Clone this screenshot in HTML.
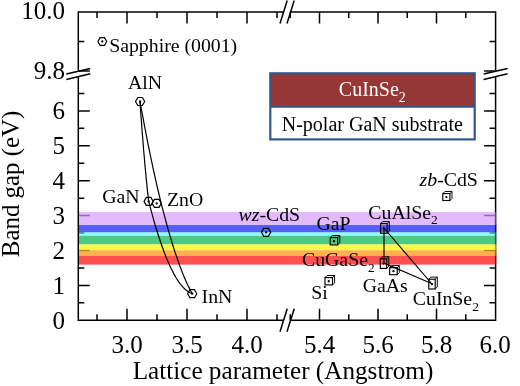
<!DOCTYPE html><html><head><meta charset="utf-8"><title>Band gap vs lattice parameter</title>
<style>html,body{margin:0;padding:0;background:#fff}svg{display:block}text{font-family:"Liberation Serif","Times New Roman",serif;fill:#000}</style></head><body>
<svg width="520" height="386" viewBox="0 0 520 386">
<rect width="520" height="386" fill="#fff"/>
<defs><filter id="soft" x="0" y="0" width="100%" height="100%" filterUnits="userSpaceOnUse"><feGaussianBlur stdDeviation="0.4"/></filter></defs>
<g filter="url(#soft)">
<rect width="520" height="386" fill="#fff"/>
<g stroke="#000" stroke-width="1.5" fill="none" stroke-linecap="butt">
<path d="M78.3 11.25V70.6M78.3 77V321.05"/>
<path d="M495.6 11.25V70.6M495.6 77V321.05"/>
<path d="M78.3 12.0H283.3M291 12.0H495.6"/>
<path d="M78.3 320.3H283.3M291 320.3H495.6"/>
<path d="M127.00 12.0v11.5M127.00 320.3v-11.5"/>
<path d="M187.00 12.0v11.5M187.00 320.3v-11.5"/>
<path d="M247.00 12.0v11.5M247.00 320.3v-11.5"/>
<path d="M97.00 12.0v6M97.00 320.3v-6"/>
<path d="M157.00 12.0v6M157.00 320.3v-6"/>
<path d="M217.00 12.0v6M217.00 320.3v-6"/>
<path d="M277.00 12.0v6M277.00 320.3v-6"/>
<path d="M319.50 12.0v11.5M319.50 320.3v-11.5"/>
<path d="M378.00 12.0v11.5M378.00 320.3v-11.5"/>
<path d="M436.50 12.0v11.5M436.50 320.3v-11.5"/>
<path d="M290.25 12.0v6M290.25 320.3v-6"/>
<path d="M348.75 12.0v6M348.75 320.3v-6"/>
<path d="M407.25 12.0v6M407.25 320.3v-6"/>
<path d="M465.75 12.0v6M465.75 320.3v-6"/>
<path d="M79.0 285.40h10.8M494.90000000000003 285.40h-10.8"/>
<path stroke-opacity="0.62" d="M79.0 250.50h10.8M494.90000000000003 250.50h-10.8"/>
<path stroke-opacity="0.62" d="M79.0 215.60h10.8M494.90000000000003 215.60h-10.8"/>
<path d="M79.0 180.70h10.8M494.90000000000003 180.70h-10.8"/>
<path d="M79.0 145.80h10.8M494.90000000000003 145.80h-10.8"/>
<path d="M79.0 110.90h10.8M494.90000000000003 110.90h-10.8"/>
<path d="M79.0 302.85h5.3M494.90000000000003 302.85h-5.3"/>
<path d="M79.0 267.95h5.3M494.90000000000003 267.95h-5.3"/>
<path stroke-opacity="0.62" d="M79.0 233.05h5.3M494.90000000000003 233.05h-5.3"/>
<path d="M79.0 198.15h5.3M494.90000000000003 198.15h-5.3"/>
<path d="M79.0 163.25h5.3M494.90000000000003 163.25h-5.3"/>
<path d="M79.0 128.35h5.3M494.90000000000003 128.35h-5.3"/>
<path d="M79.0 93.45h5.3M494.90000000000003 93.45h-5.3"/>
<path d="M79.0 71.00h10.8M494.90000000000003 71.00h-10.8"/>
<path d="M79.0 41.50h5.3M494.90000000000003 41.50h-5.3"/>
<path d="M280.0 23.5L287.20000000000005 0.5"/>
<path d="M280.0 331.8L287.20000000000005 308.8"/>
<path d="M287.0 23.5L294.20000000000005 0.5"/>
<path d="M287.0 331.8L294.20000000000005 308.8"/>
<path d="M66.3 74.0L90.3 68.4"/>
<path d="M483.6 74.0L507.6 68.4"/>
<path d="M66.3 79.39999999999999L90.3 73.8"/>
<path d="M483.6 79.39999999999999L507.6 73.8"/>
</g>
<rect x="79.0" y="212.05" width="417.3" height="12.95" fill="rgb(200,120,250)" fill-opacity="0.5"/>
<rect x="79.0" y="225.0" width="417.3" height="7.30" fill="rgb(0,10,250)" fill-opacity="0.66"/>
<rect x="79.0" y="232.3" width="417.3" height="3.60" fill="rgb(0,240,240)" fill-opacity="0.43"/>
<rect x="79.0" y="235.9" width="417.3" height="8.40" fill="rgb(0,176,80)" fill-opacity="0.69"/>
<rect x="79.0" y="244.3" width="417.3" height="6.00" fill="rgb(255,240,0)" fill-opacity="0.69"/>
<rect x="79.0" y="250.3" width="417.3" height="5.60" fill="rgb(255,140,0)" fill-opacity="0.69"/>
<rect x="79.0" y="255.9" width="417.3" height="8.70" fill="rgb(255,0,0)" fill-opacity="0.69"/>
<g stroke="#000" stroke-width="1.2" fill="none">
<path d="M140.0 101.5L140.2 104.6L140.4 107.6L140.6 110.6L140.8 113.6L141.0 116.6L141.3 119.5L141.5 122.4L141.7 125.3L141.9 128.1L142.1 130.9L142.3 133.7L142.6 136.4L142.8 139.2L143.0 141.8L143.2 144.5L143.4 147.1L143.6 149.7L143.8 152.3L144.1 154.8L144.3 157.3L144.5 159.8L144.7 162.2L144.9 164.6L145.1 167.0L145.4 169.4L145.6 171.7L145.8 174.0L146.0 176.2L146.2 178.5L146.4 180.7L146.7 182.8L146.9 185.0L147.1 187.1L147.3 189.1L147.5 191.2L147.7 193.2L148.0 195.2L148.2 197.1L148.4 199.1L148.6 200.9"/>
<path d="M148.6 200.9L149.7 205.2L150.8 209.3L151.9 213.3L153.0 217.3L154.0 221.1L155.1 224.9L156.2 228.5L157.3 232.0L158.4 235.5L159.5 238.8L160.6 242.1L161.7 245.2L162.8 248.3L163.8 251.2L164.9 254.1L166.0 256.9L167.1 259.5L168.2 262.1L169.3 264.5L170.4 266.9L171.5 269.2L172.6 271.3L173.6 273.4L174.7 275.4L175.8 277.3L176.9 279.0L178.0 280.7L179.1 282.3L180.2 283.8L181.3 285.2L182.4 286.4L183.4 287.6L184.5 288.7L185.6 289.7L186.7 290.6L187.8 291.4L188.9 292.1L190.0 292.7L191.1 293.2L192.2 293.6"/>
<path d="M140.0 101.5L141.3 108.7L142.6 115.7L143.9 122.7L145.2 129.5L146.5 136.2L147.8 142.8L149.1 149.2L150.4 155.5L151.7 161.7L153.0 167.8L154.3 173.8L155.6 179.6L156.9 185.4L158.2 191.0L159.5 196.4L160.8 201.8L162.1 207.0L163.5 212.1L164.8 217.1L166.1 222.0L167.4 226.7L168.7 231.3L170.0 235.8L171.3 240.2L172.6 244.5L173.9 248.6L175.2 252.6L176.5 256.5L177.8 260.3L179.1 263.9L180.4 267.4L181.7 270.8L183.0 274.1L184.3 277.2L185.6 280.3L186.9 283.2L188.2 286.0L189.6 288.6L190.9 291.2L192.2 293.6"/>
</g>
<g stroke="#000" stroke-width="1.15" fill="none">
<path d="M384 228L384 263L431.5 283.5Z"/>
</g>
<polygon points="106.70,41.50 104.50,45.31 100.10,45.31 97.90,41.50 100.10,37.69 104.50,37.69" fill="none" stroke="#000" stroke-width="1.2"/><circle cx="102.3" cy="41.5" r="1.15" fill="#000"/>
<polygon points="144.70,101.50 142.40,105.48 137.80,105.48 135.50,101.50 137.80,97.52 142.40,97.52" fill="none" stroke="#000" stroke-width="1.2"/><circle cx="140.1" cy="101.5" r="1.15" fill="#000"/>
<polygon points="153.20,201.40 150.90,205.38 146.30,205.38 144.00,201.40 146.30,197.42 150.90,197.42" fill="none" stroke="#000" stroke-width="1.2"/><circle cx="148.6" cy="201.4" r="1.15" fill="#000"/>
<polygon points="161.30,203.40 159.00,207.38 154.40,207.38 152.10,203.40 154.40,199.42 159.00,199.42" fill="none" stroke="#000" stroke-width="1.2"/><circle cx="156.7" cy="203.4" r="1.15" fill="#000"/>
<polygon points="196.80,293.70 194.50,297.68 189.90,297.68 187.60,293.70 189.90,289.72 194.50,289.72" fill="none" stroke="#000" stroke-width="1.2"/><circle cx="192.2" cy="293.7" r="1.15" fill="#000"/>
<polygon points="270.70,232.30 268.40,236.28 263.80,236.28 261.50,232.30 263.80,228.32 268.40,228.32" fill="none" stroke="#000" stroke-width="1.2"/><circle cx="266.1" cy="232.3" r="1.15" fill="#000"/>
<g fill="none" stroke="#000"><rect x="330.2" y="237.6" width="7.5" height="7.3" stroke-width="1.15"/><path stroke-width="0.95" d="M330.2 237.6l2.1 -2.1h7.5v7.3l-2.1 2.1M337.7 237.6l2.1 -2.1"/></g><circle cx="333.95" cy="241.25" r="1.15" fill="#000"/>
<g fill="none" stroke="#000"><rect x="325.0" y="277.6" width="7.5" height="7.3" stroke-width="1.15"/><path stroke-width="0.95" d="M325.0 277.6l2.1 -2.1h7.5v7.3l-2.1 2.1M332.5 277.6l2.1 -2.1"/></g><circle cx="328.75" cy="281.25" r="1.15" fill="#000"/>
<g fill="none" stroke="#000"><rect x="380.6" y="223.6" width="6.6" height="9.6" stroke-width="1.15"/><path stroke-width="0.95" d="M380.6 223.6l2.1 -2.1h6.6v9.6l-2.1 2.1M387.20000000000005 223.6l2.1 -2.1"/></g><circle cx="383.90000000000003" cy="228.4" r="1.15" fill="#000"/>
<g fill="none" stroke="#000"><rect x="380.3" y="258.8" width="6.4" height="9.6" stroke-width="1.15"/><path stroke-width="0.95" d="M380.3 258.8l2.1 -2.1h6.4v9.6l-2.1 2.1M386.7 258.8l2.1 -2.1"/></g><circle cx="383.5" cy="263.6" r="1.15" fill="#000"/>
<g fill="none" stroke="#000"><rect x="389.7" y="267.7" width="7.5" height="7.0" stroke-width="1.15"/><path stroke-width="0.95" d="M389.7 267.7l2.1 -2.1h7.5v7.0l-2.1 2.1M397.2 267.7l2.1 -2.1"/></g><circle cx="393.45" cy="271.2" r="1.15" fill="#000"/>
<g fill="none" stroke="#000"><rect x="428.8" y="279.2" width="6.4" height="9.8" stroke-width="1.15"/><path stroke-width="0.95" d="M428.8 279.2l2.1 -2.1h6.4v9.8l-2.1 2.1M435.2 279.2l2.1 -2.1"/></g><circle cx="432.0" cy="284.09999999999997" r="1.15" fill="#000"/>
<g fill="none" stroke="#000"><rect x="442.8" y="193.6" width="7.1" height="6.9" stroke-width="1.15"/><path stroke-width="0.95" d="M442.8 193.6l2.1 -2.1h7.1v6.9l-2.1 2.1M449.90000000000003 193.6l2.1 -2.1"/></g><circle cx="446.35" cy="197.04999999999998" r="1.15" fill="#000"/>
<rect x="270.3" y="73.3" width="204.4" height="66.1" fill="#fff"/>
<rect x="270.3" y="73.3" width="204.4" height="33.4" fill="#953735"/>
<g stroke="#35568c" stroke-width="2.2" fill="none"><rect x="270.3" y="73.3" width="204.4" height="66.1"/><path d="M270.3 106.7h204.4"/></g>
<text x="372.3" y="96.2" font-size="20" text-anchor="middle" style="fill:#fff">CuInSe<tspan dy="5.8" font-size="14.0">2</tspan></text>
<text x="372.3" y="131.3" font-size="20" text-anchor="middle">N-polar GaN substrate</text>
<text x="109.2" y="51.6" font-size="19.8">Sapphire (0001)</text>
<text x="127.9" y="89.4" font-size="19.8">AlN</text>
<text x="102.3" y="202.7" font-size="19.8">GaN</text>
<text x="167" y="206.2" font-size="19.8">ZnO</text>
<text x="201.6" y="303.2" font-size="19.8">InN</text>
<text x="238.5" y="221" font-size="19.8"><tspan font-style="italic">wz</tspan>-CdS</text>
<text x="316.5" y="229.7" font-size="19.8">GaP</text>
<text x="311.2" y="299.1" font-size="19.8">Si</text>
<text x="368.3" y="218.5" font-size="19.8">CuAlSe<tspan dy="5.9" font-size="13.5">2</tspan></text>
<text x="302.0" y="266.4" font-size="19.8">CuGaSe<tspan dy="5.9" font-size="13.5">2</tspan></text>
<text x="362.7" y="292.2" font-size="19.8">GaAs</text>
<text x="412.8" y="305.3" font-size="19.8">CuInSe<tspan dy="5.9" font-size="13.5">2</tspan></text>
<text x="419.6" y="185.8" font-size="19.8"><tspan font-style="italic">zb</tspan>-CdS</text>
<text x="127.0" y="353.4" font-size="25" text-anchor="middle">3.0</text>
<text x="187.0" y="353.4" font-size="25" text-anchor="middle">3.5</text>
<text x="247.0" y="353.4" font-size="25" text-anchor="middle">4.0</text>
<text x="319.5" y="353.4" font-size="25" text-anchor="middle">5.4</text>
<text x="378.0" y="353.4" font-size="25" text-anchor="middle">5.6</text>
<text x="436.5" y="353.4" font-size="25" text-anchor="middle">5.8</text>
<text x="495.0" y="353.4" font-size="25" text-anchor="middle">6.0</text>
<text x="65" y="328.8" font-size="25" text-anchor="end">0</text>
<text x="65" y="293.9" font-size="25" text-anchor="end">1</text>
<text x="65" y="259.0" font-size="25" text-anchor="end">2</text>
<text x="65" y="224.1" font-size="25" text-anchor="end">3</text>
<text x="65" y="189.2" font-size="25" text-anchor="end">4</text>
<text x="65" y="154.3" font-size="25" text-anchor="end">5</text>
<text x="65" y="119.4" font-size="25" text-anchor="end">6</text>
<text x="65" y="79.2" font-size="25" text-anchor="end">9.8</text>
<text x="65" y="19.3" font-size="25" text-anchor="end">10.0</text>
<text x="283" y="379.4" font-size="25.2" text-anchor="middle">Lattice parameter (Angstrom)</text>
<text transform="translate(19.3,183.9) rotate(-90)" font-size="24.9" text-anchor="middle">Band gap (eV)</text>
</g></svg></body></html>
